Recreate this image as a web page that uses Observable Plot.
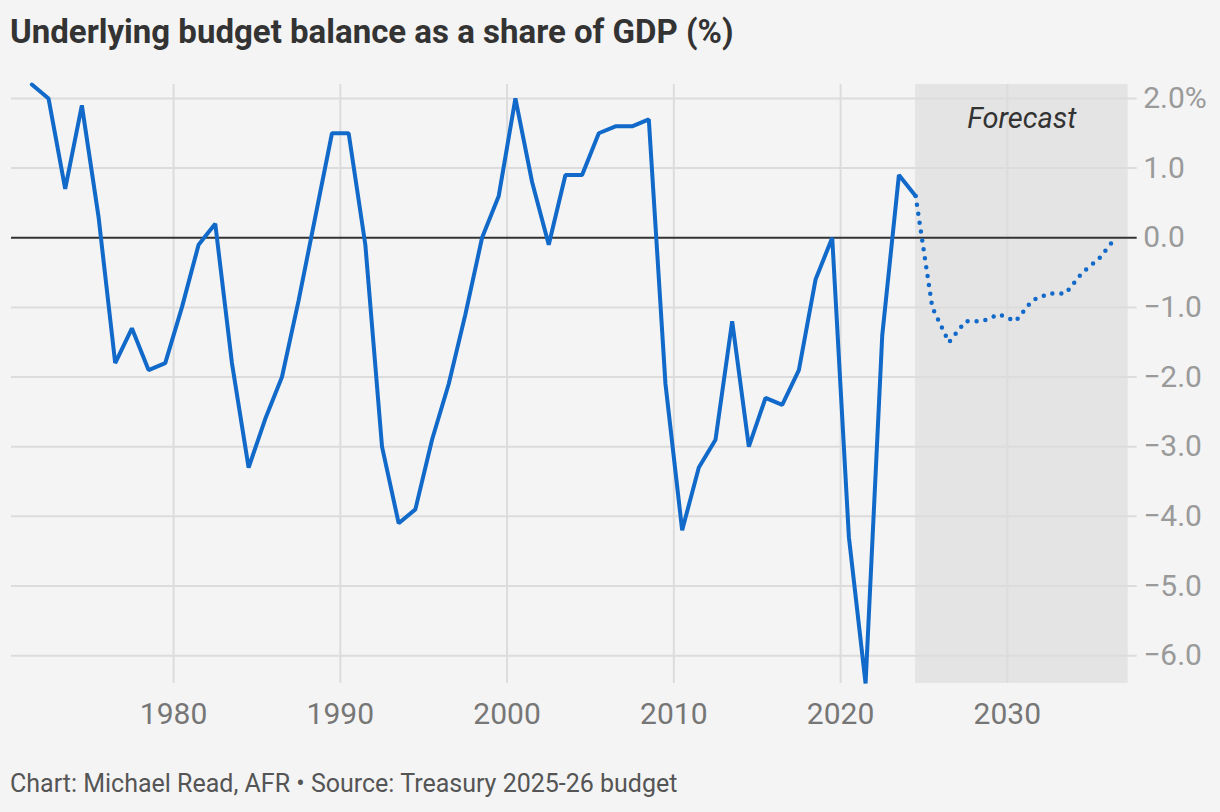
<!DOCTYPE html>
<html>
<head>
<meta charset="utf-8">
<script src="https://cdn.jsdelivr.net/npm/d3@7"></script>
<script src="https://cdn.jsdelivr.net/npm/@observablehq/plot@0.6"></script>
<style>
  html, body { margin: 0; padding: 0; background: #f4f4f4; }
  body { width: 1220px; height: 812px; position: relative; overflow: hidden; font-family: Roboto, "Noto Sans", sans-serif; }
  #title { position: absolute; left: 10px; top: 13px; font-size: 33px; line-height: 38px; font-weight: 700; color: #333; white-space: nowrap; }
  #chart { position: absolute; left: 0; top: 64px; }
  #caption { position: absolute; left: 10px; top: 769px; font-size: 25px; line-height: 30px; color: #555; white-space: nowrap; }
</style>
</head>
<body>
<div id="title">Underlying budget balance as a share of GDP (%)</div>
<div id="chart"></div>
<div id="caption">Chart: Michael Read, AFR • Source: Treasury 2025-26 budget</div>
<script>
// Fiscal year (ending June of the given year) and underlying cash balance, % of GDP
const actualYears = [1971,1972,1973,1974,1975,1976,1977,1978,1979,1980,
  1981,1982,1983,1984,1985,1986,1987,1988,1989,1990,
  1991,1992,1993,1994,1995,1996,1997,1998,1999,2000,
  2001,2002,2003,2004,2005,2006,2007,2008,2009,2010,
  2011,2012,2013,2014,2015,2016,2017,2018,2019,2020,
  2021,2022,2023,2024];
const actualValues = [2.2,2.0,0.7,1.9,0.3,-1.8,-1.3,-1.9,-1.8,-1.0,
  -0.1,0.2,-1.8,-3.3,-2.6,-2.0,-0.9,0.3,1.5,1.5,
  -0.1,-3.0,-4.1,-3.9,-2.9,-2.1,-1.1,0.0,0.6,2.0,
  0.8,-0.1,0.9,0.9,1.5,1.6,1.6,1.7,-2.1,-4.2,
  -3.3,-2.9,-1.2,-3.0,-2.3,-2.4,-1.9,-0.6,0.0,-4.3,
  -6.4,-1.4,0.9,0.6];
const forecastYears = [2024,2025,2026,2027,2028,2029,2030,2031,2032,2033,2034,2035,2036];
const forecastValues = [0.6,-1.0,-1.5,-1.2,-1.2,-1.1,-1.2,-0.9,-0.8,-0.8,-0.5,-0.3,0.0];
const xTicks = [1980,1990,2000,2010,2020,2030];
const yTicks = [2,1,0,-1,-2,-3,-4,-5,-6];
const forecastLabel = "Forecast";

const actual = actualYears.map((year, i) => ({year, value: actualValues[i]}));
const forecast = forecastYears.map((year, i) => ({year, value: forecastValues[i]}));
const xPos = d => d.year + 0.5;  // end of fiscal year (30 June)

const yDomain = d3.extent([...actualValues, ...forecastValues]);
const xDomain = [actualYears[0] - 0.72, forecastYears[forecastYears.length - 1] + 1.25];
const shadeStart = forecastYears[0] + 0.5;
const shadeEnd = xDomain[1];

const lineColor = "#1169c9";
const gridColor = "#dcdcdc";

const fmtY = v => (v === 2 ? "2.0%" : (v < 0 ? "\u2212" : "") + Math.abs(v).toFixed(1));

const chart = Plot.plot({
  width: 1220,
  height: 669,
  marginLeft: 11,
  marginRight: 92.3,
  marginTop: 20,
  marginBottom: 50,
  x: {domain: xDomain},
  y: {domain: yDomain},
  style: {background: "transparent", fontFamily: "Roboto, 'Noto Sans', sans-serif", overflow: "visible"},
  marks: [
    Plot.rect([{}], {x1: () => shadeStart, x2: () => shadeEnd, y1: () => yDomain[0], y2: () => yDomain[1], fill: "#e4e4e4"}),
    Plot.ruleX(xTicks, {x: d => d, stroke: gridColor, strokeWidth: 2}),
    Plot.ruleY(yTicks.filter(d => d !== 0), {y: d => d, stroke: gridColor, strokeWidth: 2, insetRight: -9}),
    Plot.ruleY([0], {stroke: "#333", strokeWidth: 2, insetRight: -9}),
    Plot.axisX({ticks: xTicks, tickSize: 0, tickPadding: 19, fontSize: 30, fill: "#767676", tickFormat: d => String(d), label: null}),
    Plot.axisY({anchor: "right", ticks: yTicks, tickSize: 0, tickPadding: 15, fontSize: 30, fill: "#9a9a9a", tickFormat: fmtY, label: null, textAnchor: "start"}),
    Plot.text([forecastLabel], {x: () => (shadeStart + shadeEnd) / 2, y: () => yDomain[1], text: d => d, lineAnchor: "top", dy: 23, fontSize: 29, fontStyle: "italic", fill: "#333"}),
    Plot.line(forecast, {x: xPos, y: "value", stroke: lineColor, strokeWidth: 4.5, strokeDasharray: "0 9", strokeLinecap: "round"}),
    Plot.line(actual, {x: xPos, y: "value", stroke: lineColor, strokeWidth: 4, strokeLinejoin: "miter"})
  ]
});
document.getElementById("chart").appendChild(chart);
</script>
</body>
</html>
